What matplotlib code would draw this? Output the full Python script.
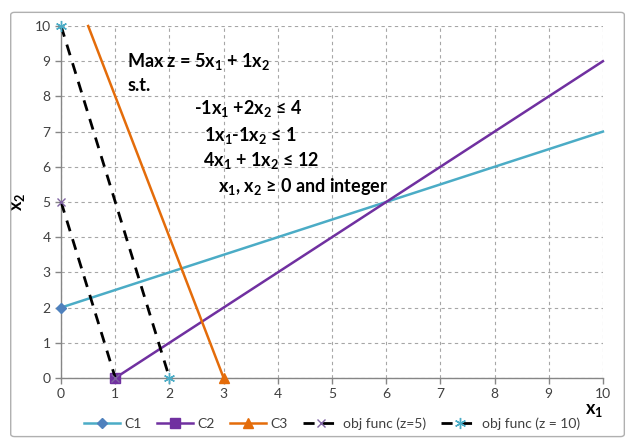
import matplotlib.pyplot as plt
from matplotlib.patches import FancyBboxPatch

plt.rcParams['font.family'] = ['Lato', 'DejaVu Sans']
plt.rcParams['mathtext.fontset'] = 'custom'
plt.rcParams['mathtext.rm'] = 'Lato:bold'
plt.rcParams['mathtext.it'] = 'Lato:bold'
plt.rcParams['mathtext.bf'] = 'Lato:bold'

# --- data: line end points ---
c1_x = [0, 10]
c1_y = [2, 7]
c2_x = [1, 10]
c2_y = [0, 9]
c3_x = [3, 0.5]
c3_y = [0, 10]
obj5_x = [0, 1]
obj5_y = [5, 0]
obj10_x = [0, 2]
obj10_y = [10, 0]

ticks = list(range(0, 11))

fig = plt.figure(figsize=(6.3, 4.41), dpi=100)
ax = fig.add_axes([0.097, 0.143, 0.860, 0.798])

# chart border
fig.patches.append(FancyBboxPatch((0.017, 0.01), 0.974, 0.962, boxstyle="round,pad=0,rounding_size=0.006",
                                  transform=fig.transFigure, fill=False, edgecolor="#B0B0B0", linewidth=1))

ax.plot(c1_x, c1_y, color="#4BACC6", lw=1.8, marker="D", markevery=[0], ms=5,
        mfc="#4F81BD", mec="#4F81BD", clip_on=False, label="C1", zorder=3)
ax.plot(c2_x, c2_y, color="#7030A0", lw=1.8, marker="s", markevery=[0], ms=7,
        mfc="#7030A0", mec="#7030A0", clip_on=False, label="C2", zorder=4)
ax.plot(c3_x, c3_y, color="#E46C0A", lw=1.8, marker="^", markevery=[0], ms=7,
        mfc="#E46C0A", mec="#E46C0A", clip_on=False, label="C3", zorder=4)
ax.plot(obj5_x, obj5_y, color="black", lw=2, ls=(0, (4, 3)), marker="x", ms=6,
        mec="#8064A2", mew=1, clip_on=False, label="obj func (z=5)", zorder=5)
ax.plot(obj10_x, obj10_y, color="black", lw=2, ls=(0, (4, 3)), marker=(6, 2, 0), ms=8,
        mec="#4BACC6", mew=1, clip_on=False, label="obj func (z = 10)", zorder=5)

ax.set_xlim(0, 10)
ax.set_ylim(0, 10)
ax.set_xticks(ticks)
ax.set_yticks(ticks)
ax.tick_params(labelsize=10, colors="#404040", length=4, width=1, direction="out")
ax.tick_params(axis="both", color="#868686")
for s in ["top", "right"]:
    ax.spines[s].set_visible(False)
for s in ["left", "bottom"]:
    ax.spines[s].set_color("#868686")
    ax.spines[s].set_linewidth(1)
ax.grid(True, color="#A6A6A6", ls=(0, (3, 3)), lw=0.8)
ax.set_axisbelow(True)

ax.text(10.0, -0.92, "x$_1$", fontsize=13, fontweight="bold", ha="right", va="center")
ax.text(-0.78, 5, "x$_2$", fontsize=13, fontweight="bold", ha="center", va="center", rotation=90)

# model text
tkw = dict(fontsize=13, fontweight="bold", ha="left", va="center")
ax.text(1.22, 9.0, "Max z = 5x$_1$ + 1x$_2$", **tkw)
ax.text(1.22, 8.3, "s.t.", **tkw)
ax.text(2.45, 7.65, "-1x$_1$ +2x$_2$ ≤ 4", **tkw)
ax.text(2.64, 6.9, "1x$_1$-1x$_2$ ≤ 1", **tkw)
ax.text(2.62, 6.17, "4x$_1$ + 1x$_2$ ≤ 12", **tkw)
ax.text(2.9, 5.45, "x$_1$, x$_2$ ≥ 0 and integer", **tkw)

ax.legend(loc="center", bbox_to_anchor=(0.5, -0.13), ncol=5, frameon=False, fontsize=10,
          handlelength=2.6, columnspacing=1.1, handletextpad=0.3, labelcolor="#404040")

plt.savefig("out.png", dpi=100)
